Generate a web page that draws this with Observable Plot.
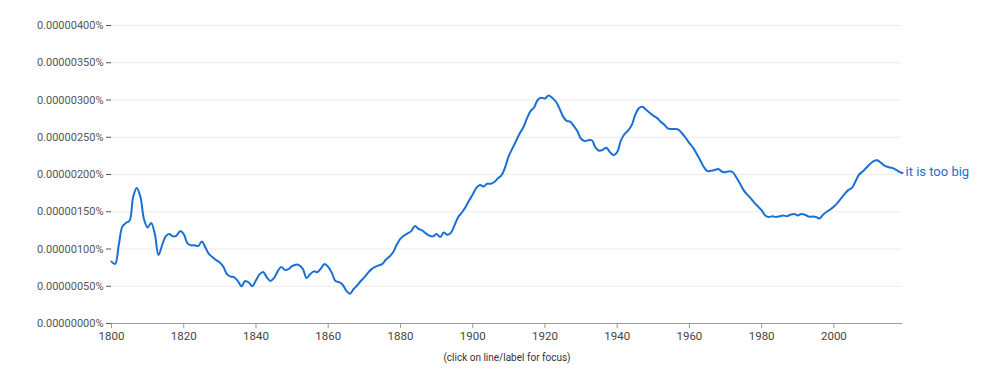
<!DOCTYPE html>
<html>
<head>
<meta charset="utf-8">
<script src="https://cdn.jsdelivr.net/npm/d3@7"></script>
<script src="https://cdn.jsdelivr.net/npm/@observablehq/plot@0.6"></script>
<style>
  body { margin: 0; background: #fff; font-family: Roboto, "Noto Sans", sans-serif; }
  #chart svg { display: block; }
</style>
</head>
<body>
<div id="chart"></div>
<script>
// Series label
const seriesName = "it is too big";
const caption = "(click on line/label for focus)";
const startYear = 1800;
// Yearly frequency, in units of 0.000001 % (e.g. 1.82 -> 0.00000182%)
const valuesE6 = [
  0.83, 0.80, 1.05, 1.30, 1.35, 1.38, 1.70, 1.82, 1.70, 1.40, // 1800-1809
  1.29, 1.35, 1.20, 0.92, 1.05, 1.17, 1.20, 1.17, 1.18, 1.24, // 1810-1819
  1.20, 1.08, 1.05, 1.05, 1.04, 1.10, 1.02, 0.93, 0.89, 0.85, // 1820-1829
  0.82, 0.76, 0.66, 0.63, 0.62, 0.57, 0.50, 0.57, 0.55, 0.50, // 1830-1839
  0.58, 0.66, 0.69, 0.62, 0.57, 0.61, 0.70, 0.76, 0.72, 0.73, // 1840-1849
  0.77, 0.79, 0.78, 0.73, 0.61, 0.66, 0.70, 0.69, 0.74, 0.80, // 1850-1859
  0.76, 0.68, 0.57, 0.555, 0.52, 0.44, 0.40, 0.46, 0.51, 0.57, // 1860-1869
  0.62, 0.68, 0.73, 0.76, 0.78, 0.80, 0.86, 0.90, 0.96, 1.06, // 1870-1879
  1.14, 1.18, 1.21, 1.24, 1.31, 1.27, 1.25, 1.21, 1.18, 1.17, // 1880-1889
  1.20, 1.16, 1.22, 1.19, 1.22, 1.32, 1.43, 1.49, 1.56, 1.65, // 1890-1899
  1.73, 1.82, 1.86, 1.84, 1.875, 1.875, 1.90, 1.95, 1.99, 2.10, // 1900-1909
  2.25, 2.35, 2.45, 2.55, 2.63, 2.75, 2.85, 2.90, 3.00, 3.03, // 1910-1919
  3.02, 3.06, 3.03, 2.98, 2.89, 2.78, 2.72, 2.71, 2.65, 2.58, // 1920-1929
  2.48, 2.45, 2.46, 2.46, 2.36, 2.32, 2.33, 2.36, 2.30, 2.26, // 1930-1939
  2.30, 2.45, 2.54, 2.59, 2.66, 2.80, 2.89, 2.91, 2.87, 2.83, // 1940-1949
  2.79, 2.76, 2.71, 2.67, 2.62, 2.61, 2.61, 2.60, 2.55, 2.49, // 1950-1959
  2.42, 2.36, 2.28, 2.19, 2.10, 2.045, 2.05, 2.06, 2.075, 2.04, // 1960-1969
  2.03, 2.045, 2.03, 1.96, 1.88, 1.79, 1.73, 1.68, 1.62, 1.57, // 1970-1979
  1.52, 1.45, 1.43, 1.44, 1.43, 1.44, 1.45, 1.44, 1.46, 1.47, // 1980-1989
  1.45, 1.47, 1.46, 1.435, 1.435, 1.43, 1.41, 1.46, 1.50, 1.53, // 1990-1999
  1.57, 1.62, 1.68, 1.74, 1.79, 1.82, 1.91, 2.00, 2.04, 2.09, // 2000-2009
  2.14, 2.18, 2.19, 2.16, 2.12, 2.10, 2.09, 2.07, 2.04, 2.02  // 2010-2019
];
const xTicks = [1800, 1820, 1840, 1860, 1880, 1900, 1920, 1940, 1960, 1980, 2000];
const yTicks = [0, 0.5, 1, 1.5, 2, 2.5, 3, 3.5, 4];

const data = valuesE6.map((v, i) => ({year: startYear + i, value: v}));
const last = data[data.length - 1];
const blue = "#1a6fd4";

const chart = Plot.plot({
  width: 1000,
  height: 385,
  marginLeft: 111,
  marginRight: 98,
  marginTop: 25,
  marginBottom: 62,
  style: {fontFamily: "Roboto, sans-serif", fontSize: "11px", color: "#555", background: "#fff"},
  x: {domain: [1800, 2019]},
  y: {domain: [0, 4]},
  marks: [
    Plot.gridY(yTicks, {stroke: "#ececec", strokeOpacity: 1}),
    Plot.axisY(yTicks, {
      tickFormat: d => (d / 1e6).toFixed(8) + "%",
      tickSize: 5, tickPadding: 3, label: null, fill: "#555", fontSize: 11
    }),
    Plot.axisX(xTicks, {
      tickFormat: d => String(d), tickSize: 5, tickPadding: 3,
      label: null, fill: "#444", fontSize: 11.5, stroke: "#999"
    }),
    Plot.ruleY([0], {stroke: "#999", strokeWidth: 1}),
    Plot.line(data, {x: "year", y: "value", stroke: blue, strokeWidth: 2, curve: "catmull-rom"}),
    Plot.text([last], {x: "year", y: "value", text: () => seriesName, textAnchor: "start", dx: 3, dy: -1, fill: blue, fontSize: 13}),
    Plot.text([caption], {frameAnchor: "bottom", text: d => d, dy: 34, lineAnchor: "middle", fill: "#333", fontSize: 10})
  ]
});
document.getElementById("chart").appendChild(chart);
</script>
</body>
</html>
